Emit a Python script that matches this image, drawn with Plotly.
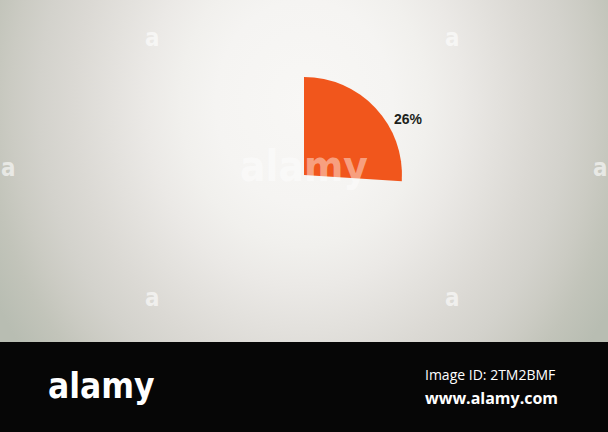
import plotly.graph_objects as go

# Data
labels = ["Share", "Rest"]
values = [26, 74]
label_text = "26%"

W, H = 608, 432
band_top = 342  # pixel row where black footer starts

fig = go.Figure()

# background vignette (radial gradient fill), centre pushed toward the top
fig.add_trace(go.Scatter(
    x=[-0.08, 1.08, 1.08, -0.08, -0.08], y=[-0.5, -0.5, 1.9, 1.9, -0.5],
    mode="lines", fill="toself",
    line=dict(width=0, color="rgba(0,0,0,0)"),
    fillgradient=dict(type="radial",
                      colorscale=[[0, "#f8f7f5"], [0.25, "#f5f4f2"], [0.35, "#f1f0ed"],
                                  [0.45, "#ebe9e6"], [0.55, "#e3e1dd"], [0.65, "#dbd9d4"],
                                  [0.75, "#d3d2cc"], [0.83, "#cbcbc3"], [0.9, "#c2c4ba"],
                                  [1, "#b8bdb2"]]),
    hoverinfo="skip", showlegend=False,
))

cx, cy, r = 304, 175, 98
fig.add_trace(go.Pie(
    labels=labels, values=values, sort=False, direction="clockwise", rotation=0,
    marker=dict(colors=["#f1561c", "rgba(0,0,0,0)"], line=dict(width=0)),
    textinfo="none", hoverinfo="skip", showlegend=False,
    domain=dict(x=[(cx - r) / W, (cx + r) / W], y=[1 - (cy + r) / H, 1 - (cy - r) / H]),
))


def note(px, py, text, size, color, family, bold=False):
    fig.add_annotation(x=px / W, y=1 - py / H, xref="paper", yref="paper",
                       xanchor="center", yanchor="middle",
                       text=("<b>%s</b>" % text) if bold else text, showarrow=False,
                       font=dict(family=family, size=size, color=color))


note(408, 119, label_text, 14, "#1c1f1c", "Liberation Sans", bold=True)

# faint watermarks
for (px, py) in [(152, 38), (452, 38), (8, 168), (600, 168), (152, 298), (452, 298)]:
    note(px, py, "a", 24, "rgba(255,255,255,0.6)", "DejaVu Sans Condensed", bold=True)
note(304, 166, "alamy", 42, "rgba(255,255,255,0.45)", "DejaVu Sans Condensed", bold=True)

# footer band
fig.add_shape(type="rect", xref="paper", yref="paper", x0=0, x1=1, y0=0, y1=1 - band_top / H,
              fillcolor="#060606", line=dict(width=0), layer="above")
note(101, 386, "alamy", 35, "white", "DejaVu Sans Condensed", bold=True)
note(490, 374, "Image ID: 2TM2BMF", 14, "white", "Open Sans")
note(491, 398, "www.alamy.com", 16, "white", "Open Sans", bold=True)

fig.update_layout(
    width=W, height=H, margin=dict(l=0, r=0, t=0, b=0),
    paper_bgcolor="#c8c9c1", plot_bgcolor="rgba(0,0,0,0)",
    xaxis=dict(visible=False, range=[0, 1], fixedrange=True),
    yaxis=dict(visible=False, range=[0, 1], domain=[1 - band_top / H, 1], fixedrange=True),
)

fig.write_html("out.html", config={"displayModeBar": False},
               post_script="document.body.style.margin='0';")
